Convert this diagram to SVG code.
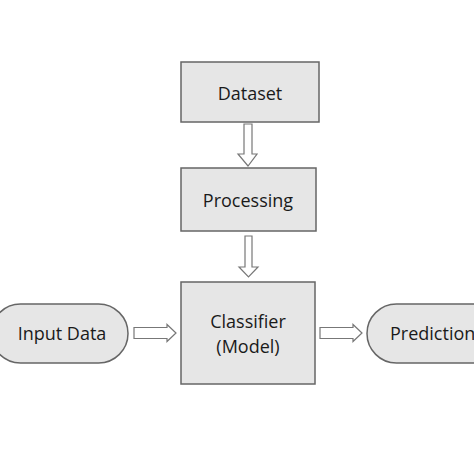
<svg xmlns="http://www.w3.org/2000/svg" width="474" height="474" viewBox="0 0 474 474">
<style>
.box{fill:#e6e6e6;stroke:#666;stroke-width:1.5}
.arr{fill:#fff;stroke:#777;stroke-width:1.2;stroke-linejoin:miter}
text{font-family:"Open Sans","Liberation Sans",sans-serif;font-size:18px;fill:#1a1a1a;text-anchor:middle}
</style>
<rect width="474" height="474" fill="#fff"/>
<g id="dataset"><rect class="box" x="181" y="62" width="138" height="60"/><text x="250" y="100">Dataset</text></g>
<g id="processing"><rect class="box" x="181" y="168" width="135" height="63"/><text x="248" y="207">Processing</text></g>
<g id="classifier"><rect class="box" x="181" y="282" width="134" height="102"/><text x="248" y="328">Classifier</text><text x="248" y="353">(Model)</text></g>
<g id="input"><rect class="box" x="-9" y="304" width="137" height="59" rx="29.5"/><text x="62" y="340">Input Data</text></g>
<g id="prediction"><rect class="box" x="367" y="304" width="150" height="59" rx="29.5"/><text x="390" y="340" style="text-anchor:start">Prediction</text></g>
<g id="connectors">
<path class="arr" d="M244,124 H252 V154 H257 L248,166 L238,154 H244 Z"/>
<path class="arr" d="M245,236 H252 V267 H258 L248.5,277 L239,267 H245 Z"/>
<path class="arr" d="M134,327.5 H167 V324.5 L176,333 L167,341.5 V338.5 H134 Z"/>
<path class="arr" d="M320,327.5 H353 V324.5 L362,333 L353,341.5 V338.5 H320 Z"/>
</g>
</svg>
